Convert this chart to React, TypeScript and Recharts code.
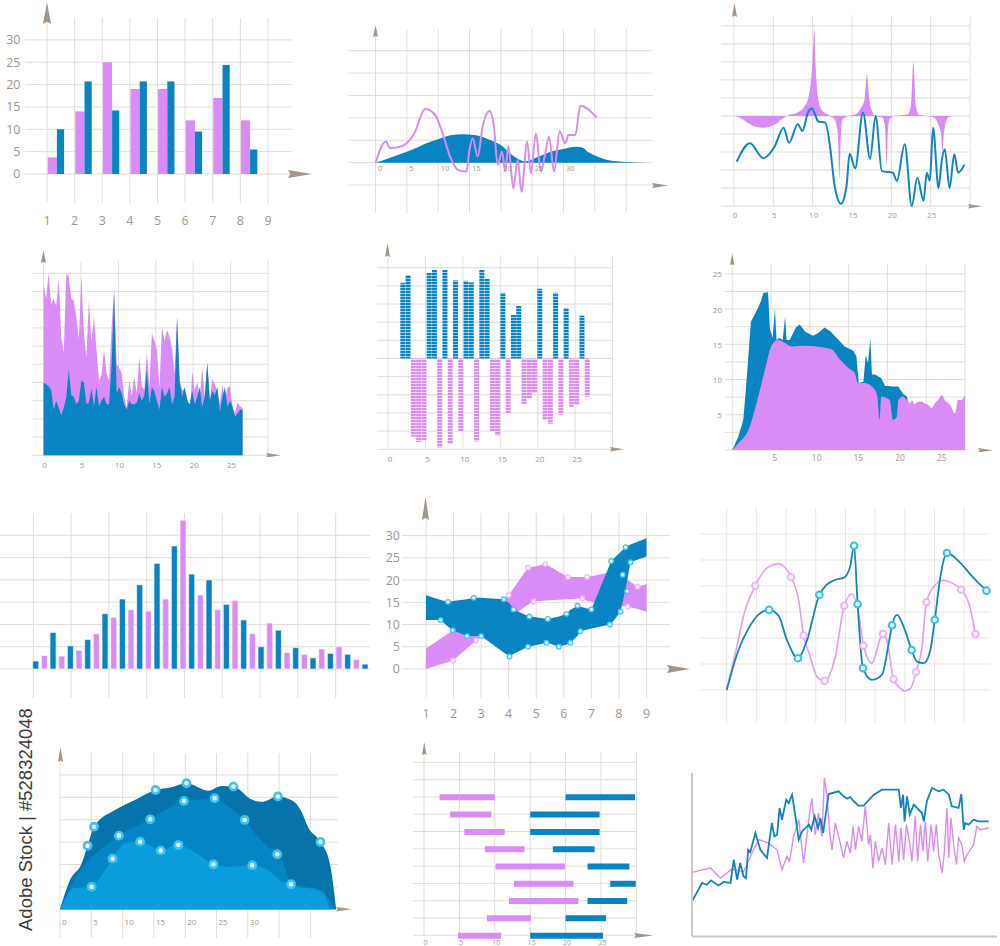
import React from 'react';
import { ComposedChart, BarChart, Bar, Area, Line, XAxis, YAxis, CartesianGrid, Cell } from 'recharts';

const PINK = '#d98cf6';
const BLUE = '#0784c1';
const GRID = '#e3dcd6';
const ARROW = '#a59585';
const INK = '#a3968c';
const FONT = '"Open Sans", "Noto Sans", sans-serif';

// ---------- data ----------
// panel 1: grouped bars
const P1_CATS = [1, 2, 3, 4, 5, 6, 7, 8];
const P1_PINK = [3.7, 14, 25, 19, 19, 12, 17, 12];
const P1_BLUE = [10, 20.7, 14.2, 20.7, 20.7, 9.5, 24.4, 5.5];
const P1_XTICKS = [1, 2, 3, 4, 5, 6, 7, 8, 9];
const Y30 = [0, 5, 10, 15, 20, 25, 30];

// panel 2: hump + wiggly line
const P2_XTICKS = [0, 5, 10, 15, 20, 25, 30, 35, 40];
const P2_XLABELS = [0, 5, 10, 15, 20, 25, 30];
const P2_YTICKS = [-10, 0, 10, 20, 30, 40, 50];
const P2_BLUE_X = [0, 2, 4, 6, 8, 10, 12, 14, 16, 18, 20, 22, 24, 26, 28, 30, 32, 33, 34, 36, 38, 40, 42, 44];
const P2_BLUE_Y = [0, 1.9, 3.9, 6.0, 8.6, 10.5, 12.2, 12.7, 12.2, 10.5, 7.9, 3.0, 0.6, 2.7, 4.9, 6.1, 7.1, 6.8, 4.6, 2.1, 0.7, 0.3, 0.1, 0];
const P2_PINK = [
  [0, 0], [1.65, 9.4], [2.3, 6.5], [4.1, 7.2], [6.2, 13.1], [7.9, 24.0], [9.5, 21.4], [10.6, 14], [11.9, 2.7],
  [13.2, -3.3], [14.5, -4], [15, 5.7], [15.5, 10.9], [16.3, 2.7], [17.1, 16.1], [18.2, 23.1], [18.9, 16.1],
  [19.5, -1], [20.2, 5], [20.7, -4], [21.2, 7.2], [22, -11.5], [22.7, 1.2], [23.3, -13], [24.2, 9.4], [24.8, -4.8],
  [25.6, 13], [26.4, -4], [27, 2.7], [27.7, 11.6], [28.5, -4], [29.4, 14], [30.3, 8.6], [30.8, 12.4], [31.9, 12.4],
  [32.7, 25.4], [35.3, 20.2],
];

// panel 3: spikes + line
const X30 = [0, 5, 10, 15, 20, 25, 30];
const X25 = [0, 5, 10, 15, 20, 25];
const P3_YTICKS = [-5, -4, -3, -2, -1, 0, 1, 2, 3, 4, 5];
const P3_PINK = [
  [0, 0], [1, -0.15], [1.82, -0.4], [2.8, -0.6], [3.72, -0.65], [4.6, -0.58], [5.2, -0.48], [6.0, -0.2], [6.7, 0],
  [8.1, 0.19], [8.9, 0.5], [9.4, 0.93], [9.8, 2.0], [10.0, 3.15], [10.2, 4.8], [10.4, 2.6], [10.6, 1.3], [11.1, 0.37],
  [12.2, 0], [12.8, -0.19], [13.2, -1.0], [13.4, -3.5], [13.6, -1.0], [13.8, -0.19], [14.5, 0], [15.5, 0.1],
  [16.2, 0.5], [16.6, 0.93], [16.9, 2.3], [17.2, 0.93], [17.5, 0.35], [17.9, 0], [18.9, -0.1], [19.2, -0.6],
  [19.4, -2.8], [19.6, -0.6], [19.9, -0.1], [20.5, 0], [22.1, 0.1], [22.5, 0.6], [22.8, 3.0], [23.1, 0.6],
  [23.6, 0.05], [24.5, 0], [25.5, -0.1], [26.0, -0.5], [26.3, -0.93], [26.5, -2.0], [26.7, -0.93], [27.2, -0.1],
  [28, 0], [30, 0],
];
const P3_BLUE = [
  [0.34, -2.54], [2.03, -1.52], [3.73, -2.35], [5.2, -1.67], [6.3, -0.65], [7.0, -1.48], [8.1, -0.46], [8.7, -0.83],
  [9.4, 0.19], [9.9, 0.41], [10.3, 0.09], [10.7, -0.31], [11.6, -0.37], [12.2, -1.67], [12.8, -3.9], [13.6, -4.87],
  [14.3, -3.9], [14.7, -2.1], [15.4, -2.9], [16.4, 0.19], [17.3, -2.37], [18.0, 0], [18.8, -3.06], [20.2, -3.15],
  [20.7, -3.6], [21.7, -1.57], [22.6, -5.0], [23.3, -3.43], [24.1, -4.7], [24.5, -3.15], [24.9, -3.6], [25.3, -0.65],
  [26.0, -4.0], [26.4, -2.5], [26.8, -1.85], [27.4, -4.0], [28.0, -2.13], [28.5, -3.15], [29.3, -2.7],
];

// panel 4: two noisy areas, sampled every P4_STEP
const P4_STEP = 0.3367;
const Y10 = [0, 1, 2, 3, 4, 5, 6, 7, 8, 9, 10];
const P4_PINK = [
  9.4, 8.6, 10.0, 8.3, 8.6, 8.2, 9.7, 6.5, 5.6, 10.0, 9.8, 8.6, 8.5, 7.6, 6.4, 9.9, 6.7, 5.4, 8.5, 6.3,
  7.6, 5.8, 4.1, 4.4, 5.8, 4.5, 4.1, 7.0, 9.2, 5.0, 4.8, 4.5, 3.2, 2.6, 4.1, 3.3, 4.3, 3.4, 5.4, 3.8,
  3.6, 5.7, 3.7, 6.7, 6.3, 5.8, 3.7, 7.1, 6.3, 6.9, 6.5, 5.9, 4.5, 7.6, 4.1, 3.6, 3.6, 3.2, 1.9, 4.6,
  3.6, 4.0, 3.2, 4.8, 3.2, 5.1, 3.0, 4.2, 3.9, 3.5, 2.8, 3.9, 3.0, 3.7, 3.8, 2.7, 2.3, 2.9, 2.7, 2.6,
];
const P4_BLUE = [
  4.0, 3.9, 3.8, 3.6, 2.5, 3.0, 2.6, 2.2, 2.6, 3.2, 4.7, 3.3, 3.2, 2.8, 3.0, 4.1, 4.0, 2.8, 2.9, 3.65,
  2.65, 3.75, 2.7, 3.0, 3.2, 2.8, 2.8, 5.0, 8.9, 3.4, 3.75, 3.4, 2.8, 2.5, 3.0, 2.8, 2.8, 2.9, 3.4, 3.0,
  3.3, 4.75, 2.8, 3.75, 3.5, 3.0, 2.5, 3.75, 3.2, 3.4, 3.75, 2.8, 3.2, 7.6, 4.1, 3.2, 3.75, 3.0, 2.8, 3.55,
  2.8, 3.2, 3.75, 2.65, 3.2, 5.1, 3.0, 3.55, 3.3, 3.75, 2.4, 3.2, 3.75, 2.65, 3.0, 2.65, 2.1, 2.3, 2.5, 2.5,
];

// panel 5: striped up/down bars in 36 slots
const P5_BLUE = [4.17, 4.6, 0, 0, 0, 4.72, 4.88, 0, 4.88, 0, 4.3, 0, 4.28, 4.19, 0, 4.88, 4.39, 0, 0, 3.62, 0, 2.41, 2.9, 0, 0, 0, 3.84, 0, 0, 3.62, 0, 2.78, 0, 0, 2.36, 0];
const P5_PINK = [0, 0, -4.3, -4.6, -4.5, 0, 0, -4.9, 0, -4.7, 0, -4.0, 0, 0, -4.57, 0, 0, -4.0, -4.24, 0, -3.0, 0, 0, -2.5, -2.2, -1.9, 0, -3.4, -3.6, 0, -3.1, 0, -2.65, -2.55, 0, -2.1];

// panel 6: two overlapping areas
const P6_YTICKS = [0, 2.5, 5, 7.5, 10, 12.5, 15, 17.5, 20, 22.5, 25];
const P6_YLABELS = [5, 10, 15, 20, 25];
const P6_XLABELS = [5, 10, 15, 20, 25];
const P6_BLUE = [
  [0, 0], [0.78, 1.9], [1.42, 4.3], [1.85, 10], [2.4, 18.2], [3.1, 19.7], [3.7, 21.1], [4.0, 22.3], [4.6, 22.4],
  [4.86, 17.1], [5.2, 15.9], [5.5, 20.1], [5.7, 15.6], [6.06, 15.9], [6.5, 15.6], [6.8, 18.9], [7.0, 15.6],
  [7.4, 15.6], [8.2, 17.4], [8.7, 17.8], [9.4, 16.8], [10.4, 16.2], [11.1, 16.6], [11.9, 17.4], [12.7, 16.8],
  [13.7, 15.6], [14.5, 14.7], [15.6, 14.1], [16.0, 13.3], [16.3, 9.5], [16.9, 9.7], [17.2, 13.5], [17.5, 12.3],
  [17.8, 15.9], [18.0, 10.7], [18.4, 10.7], [19.2, 10.2], [19.7, 9.1], [20.1, 9.1], [20.7, 9.0], [21.4, 9.0],
  [22.0, 8.0], [22.5, 7.6], [23.0, 5.0], [30, 4.5],
];
const P6_PINK = [
  [0, 0], [0.78, 0.95], [2.07, 2.8], [3.35, 7.6], [4.2, 11.4], [5.1, 14.9], [5.9, 15.6], [6.8, 15.2], [7.65, 14.7],
  [9.4, 14.8], [11.5, 14.6], [12.8, 14.3], [13.9, 12.8], [15.0, 11.6], [15.8, 10.9], [16.2, 9.5], [17.1, 9.5],
  [18.4, 8.5], [18.7, 7.6], [19.0, 4.3], [19.2, 7.6], [20.3, 7.1], [20.7, 4.3], [21.2, 4.7], [21.4, 7.1],
  [22.0, 7.6], [22.4, 7.2], [22.9, 6.7], [23.2, 7.0], [23.5, 6.5], [23.9, 6.8], [24.4, 6.9], [24.8, 6.6],
  [25.3, 6.4], [25.7, 5.9], [26.1, 6.6], [26.6, 7.2], [27.0, 7.8], [27.4, 7.1], [28.1, 6.4], [28.7, 5.2],
  [29.1, 7.1], [29.5, 7.1], [30, 7.8],
];

// panel 7: 39 alternating bars
const P7_VALUES = [
  1.8, 3.0, 8.2, 2.9, 5.2, 4.2, 6.6, 7.9, 12.4, 11.6, 15.7, 13.3, 18.9, 13.0, 23.7, 15.7, 27.6, 33.4, 21.3, 16.6,
  20.0, 13.3, 14.5, 15.4, 11.0, 7.9, 5.0, 10.3, 8.7, 3.7, 4.8, 3.3, 2.5, 4.5, 3.5, 5.0, 3.3, 2.1, 1.1,
];
const P7_GRID_X = [0, 1, 2, 3, 4, 5, 6, 7, 8];

// panel 8: two bands with markers  [x, low, high]
const P8_PINK = [
  [1, 0, 4.6], [1.98, 1.9, 8.7], [2.82, 6.4, 11.9], [4.0, 11.3, 16.6], [4.7, 14.5, 22.8], [4.91, 15.2, 23.0],
  [5.33, 15.4, 23.6], [6.15, 15.7, 20.7], [6.67, 15.9, 20.7], [6.85, 15.3, 20.7], [7.65, 14.5, 21.7],
  [8.32, 14.0, 20.0], [8.68, 13.5, 18.5], [9, 12.9, 19.1],
];
const P8_BLUE = [
  [1, 11.0, 16.6], [1.53, 11.0, 15.5], [1.8, 9.5, 15.1], [1.97, 8.7, 15.3], [2.49, 7.4, 15.7], [2.73, 7.4, 16.0],
  [3.0, 7.4, 16.0], [3.82, 3.7, 15.7], [4.03, 2.8, 14.8], [4.18, 3.4, 13.4], [4.7, 5.0, 11.9], [5.4, 5.9, 11.25],
  [5.82, 5.0, 11.8], [6.1, 5.5, 12.4], [6.24, 5.9, 13.3], [6.5, 7.5, 14.25], [6.6, 8.5, 14.0], [7.0, 9.1, 13.4],
  [7.67, 10.0, 23.5], [7.72, 10.2, 24.3], [8.06, 12.9, 26.3], [8.24, 18.0, 27.4], [8.42, 24.0, 28.0], [9, 25.3, 29.4],
];
const P8_PINK_DOTS = [[1.98, 1.9], [2.82, 6.4], [4.0, 16.6], [4.7, 22.8], [4.91, 15.2], [5.33, 23.6], [6.15, 20.7], [6.67, 15.9], [6.85, 20.7], [8.32, 14.0], [8.68, 18.5]];
const P8_BLUE_DOTS = [
  [1.53, 11.0], [1.8, 15.1], [1.97, 8.7], [2.49, 7.4], [2.73, 16.0], [3.0, 7.4], [3.82, 15.7], [4.03, 2.8],
  [4.18, 13.4], [4.7, 5.0], [4.75, 11.8], [5.37, 5.9], [5.42, 11.25], [5.82, 5.0], [6.1, 12.4], [6.24, 5.9],
  [6.5, 14.25], [6.6, 8.5], [7.0, 13.4], [7.67, 10.0], [7.72, 24.3], [8.06, 12.9], [8.14, 21.2], [8.24, 27.4],
  [8.3, 17.5], [8.42, 24.0],
];

// panel 9: two smooth lines, [x, y, marker]
const X0_8 = [0, 1, 2, 3, 4, 5, 6, 7, 8];
const Y0_6 = [0, 1, 2, 3, 4, 5, 6];
const P9_BLUE = [
  [0, 0, 0], [0.4, 1.55, 0], [0.75, 2.4, 0], [1.07, 2.9, 0], [1.43, 3.08, 1], [1.75, 2.85, 0], [2.02, 1.95, 0],
  [2.4, 1.22, 1], [2.7, 1.9, 0], [3.12, 3.66, 1], [3.37, 4.05, 0], [3.66, 4.24, 0], [3.94, 4.31, 0], [4.16, 4.76, 0],
  [4.29, 5.55, 1], [4.41, 3.3, 1], [4.59, 0.84, 1], [4.89, 0.39, 0], [5.23, 0.58, 0], [5.46, 1.8, 0], [5.57, 2.49, 1],
  [5.74, 2.89, 0], [5.96, 2.44, 0], [6.23, 1.54, 1], [6.41, 1.09, 0], [6.64, 1.03, 0], [6.86, 1.54, 0], [7.01, 2.7, 1],
  [7.2, 4.37, 0], [7.42, 5.27, 1], [7.82, 4.95, 0], [8.27, 4.37, 0], [8.75, 3.82, 1],
];
const P9_PINK = [
  [0, 0, 0], [0.34, 1.67, 0], [0.62, 3.08, 0], [0.96, 4.01, 1], [1.35, 4.69, 0], [1.74, 4.85, 0], [2.17, 4.34, 1],
  [2.42, 3.47, 0], [2.59, 2.1, 1], [2.81, 1.29, 0], [3.04, 0.51, 0], [3.3, 0.35, 1], [3.66, 1.29, 0], [3.96, 3.24, 1],
  [4.22, 3.69, 0], [4.44, 2.96, 0], [4.61, 1.7, 1], [4.89, 1.03, 0], [5.26, 2.16, 1], [5.42, 1.8, 0], [5.62, 0.41, 1],
  [5.79, 0.13, 0], [6.0, -0.04, 0], [6.19, 0.06, 0], [6.38, 0.69, 1], [6.58, 1.67, 0], [6.73, 3.38, 1], [7.03, 4.05, 0],
  [7.31, 4.22, 0], [7.59, 4.11, 0], [7.9, 3.86, 1], [8.16, 3.34, 0], [8.38, 2.15, 1],
];

// panel 10: three layered areas, [x, y, marker]
const P10_XTICKS = [0, 5, 10, 15, 20, 25, 30, 35, 40];
const P10_XLABELS = [0, 5, 10, 15, 20, 25, 30];
const P10_DARK = [
  [0, 0, 0], [1.6, 1.31, 0], [3.46, 2.05, 0], [4.41, 2.84, 1], [5.43, 3.69, 1], [8.78, 4.43, 0], [11.97, 4.88, 0],
  [15.27, 5.33, 1], [17.8, 5.45, 0], [20.2, 5.63, 1], [23.7, 5.3, 0], [25.8, 5.51, 0], [27.7, 5.48, 1], [30.6, 4.9, 0],
  [32.2, 4.8, 0], [34.8, 5.04, 1], [37.0, 4.87, 0], [38.6, 4.35, 0], [39.6, 3.68, 0], [41.6, 3.01, 1], [43.1, 2.05, 0],
  [44.1, 0, 0],
];
const P10_MID = [
  [0, 0, 0], [1.33, 0.79, 0], [2.93, 1.61, 0], [4.52, 2.2, 0], [6.65, 2.72, 0], [9.41, 3.29, 1], [11.4, 3.62, 0],
  [14.4, 4.02, 1], [16.8, 4.43, 0], [19.8, 4.84, 1], [22.1, 4.88, 0], [24.7, 4.96, 1], [26.9, 4.58, 0], [29.5, 3.99, 1],
  [31.6, 3.24, 0], [33.2, 2.79, 0], [34.7, 2.46, 1], [35.9, 1.9, 0], [36.9, 1.12, 1], [39.6, 1.0, 0], [41.8, 0.86, 0],
  [43.1, 0.42, 0], [43.9, 0, 0],
];
const P10_LIGHT = [
  [0, 0, 0], [1.06, 0.6, 0], [2.13, 0.94, 0], [5.05, 1.01, 1], [6.65, 1.53, 0], [8.4, 2.26, 1], [10.4, 2.95, 0],
  [12.8, 3.02, 1], [14.6, 2.8, 0], [16.1, 2.62, 1], [17.8, 2.8, 0], [18.9, 2.87, 1], [20.5, 2.72, 0], [22.6, 2.35, 0],
  [24.5, 2.01, 1], [26.9, 1.9, 0], [30.7, 1.97, 1], [33.2, 1.75, 0], [35.4, 1.25, 0], [38.0, 1.0, 0], [40.7, 0.9, 0],
  [42.3, 0.6, 0], [43.1, 0, 0],
];

// panel 11: timeline rows
const P11_ROWS = [8, 7, 6, 5, 4, 3, 2, 1, 0];
const P11_PINK_START = [2.2, 3.7, 5.7, 8.6, 10.1, 12.7, 12.0, 8.9, 4.8];
const P11_PINK_END = [10.0, 9.5, 11.4, 14.2, 19.9, 21.1, 21.8, 15.1, 10.9];
const P11_BLUE_START = [20.0, 15.0, 15.0, 18.2, 23.1, 26.3, 23.1, 20.0, 15.0];
const P11_BLUE_END = [29.8, 24.8, 24.8, 24.1, 29.0, 29.9, 28.7, 25.7, 25.3];

// panel 12: two jagged lines
const P12_XTICKS = [0, 18.6, 36.6, 53.5, 70.2, 86.3];
const P12_BLUE = [
  [0, 2.14], [3.3, 3.27], [4.9, 3.16], [6.2, 3.43], [8.7, 3.12], [10.4, 3.33], [12.6, 3.27], [13.7, 4.69], [14.8, 3.47],
  [15.8, 4.49], [16.9, 3.67], [17.7, 3.57], [18.4, 5.3], [19.1, 5.16], [20.8, 6.33], [22.4, 5.3], [24.6, 4.8], [25.1, 5.5],
  [26.2, 6.94], [27.0, 6.12], [27.9, 6.22], [28.7, 7.86], [29.5, 7.14], [30.9, 8.37], [31.7, 8.16], [32.8, 8.67],
  [33.9, 7.35], [35.0, 5.92], [36.1, 6.43], [37.2, 6.63], [38.3, 6.84], [39.1, 6.53], [40.2, 7.35], [41.3, 6.63],
  [42.1, 7.24], [43.0, 6.33], [44.8, 8.71], [48.1, 8.88], [49.7, 8.57], [50.8, 8.43], [51.9, 8.53], [53.0, 8.27],
  [54.6, 8.0], [56.3, 8.0], [59.6, 8.67], [62.3, 8.98], [67.8, 8.98], [68.5, 7.86], [69.2, 8.67], [69.7, 7.04],
  [70.5, 8.57], [71.4, 7.45], [72.7, 8.06], [75.4, 7.55], [76.0, 7.04], [77.0, 8.27], [78.7, 9.08], [80.9, 8.88],
  [82.5, 8.98], [84.2, 8.67], [85.2, 7.96], [87.4, 7.86], [88.3, 8.71], [89.1, 6.53], [89.6, 6.94], [90.7, 6.84],
  [92.3, 7.14], [94.0, 7.04], [97.3, 7.04],
];
const P12_PINK = [
  [0, 3.92], [6.0, 4.18], [9.3, 3.57], [13.1, 4.12], [16.9, 3.94], [19.7, 5.1], [21.9, 5.92], [25.1, 5.71], [27.9, 5.3],
  [29.5, 4.08], [31.1, 4.9], [32.0, 4.6], [33.3, 6.12], [35.0, 7.14], [36.6, 4.49], [38.3, 7.14], [39.3, 8.47],
  [40.4, 6.22], [41.5, 7.55], [42.6, 6.12], [43.4, 9.69], [44.3, 8.47], [45.1, 6.43], [45.9, 5.3], [47.0, 6.94],
  [48.1, 6.12], [49.7, 4.8], [50.8, 5.82], [51.9, 5.1], [52.8, 6.73], [53.6, 5.3], [54.6, 6.73], [55.7, 5.82],
  [56.8, 7.96], [57.9, 5.61], [58.5, 6.22], [59.3, 4.18], [60.1, 5.82], [61.2, 4.59], [62.3, 5.41], [63.4, 4.39],
  [64.5, 6.94], [65.6, 4.39], [66.7, 6.84], [67.8, 4.59], [68.5, 6.63], [69.4, 4.69], [70.3, 6.84], [71.4, 5.71],
  [72.1, 4.59], [73.2, 7.35], [74.0, 4.59], [74.9, 6.84], [75.7, 5.2], [76.5, 7.04], [77.3, 4.59], [78.4, 6.84],
  [79.2, 5.2], [80.1, 6.84], [80.9, 5.0], [82.0, 3.88], [82.7, 5.1], [83.6, 7.86], [84.2, 4.8], [84.9, 7.24],
  [85.8, 5.61], [86.7, 4.39], [87.4, 6.02], [88.5, 5.61], [89.3, 4.59], [90.2, 5.0], [92.3, 5.61], [93.4, 6.73],
  [94.5, 6.53], [97.3, 6.63],
];

// ---------- helpers ----------
const xy = (arr: number[][]) => arr.map(([x, y, m]) => ({ x, y, m }));
const band = (arr: number[][]) => arr.map(([x, lo, hi]) => ({ x, r: [lo, hi] }));

// chart frame whose plot area is exactly (x, y, w, h) on the page
function at(x: number, y: number, w: number, h: number, xh = 0, yw = 0) {
  const pad = 30;
  return {
    left: x - pad,
    top: y - pad,
    width: w + 2 * pad,
    height: h + 2 * pad,
    margin: { top: pad, right: pad, bottom: pad - xh, left: pad - yw },
  };
}

function Box({ f, children }: any) {
  return <div style={{ position: 'absolute', left: f.left, top: f.top }}>{children}</div>;
}

const bare = { axisLine: false, tickLine: false, tickSize: 0, tickMargin: 0, interval: 0 as const };
const ghost = { hide: true, height: 0, interval: 0 as const };
const ghostY = { hide: true, width: 0, interval: 0 as const };

function lbl(o: { dx?: number; dy?: number; anchor?: string; size?: number; show?: number[] }) {
  return (p: any) => {
    const v = p.payload.value;
    if (o.show && !o.show.includes(v)) return <g />;
    return (
      <text
        x={p.x + (o.dx ?? 0)}
        y={p.y + (o.dy ?? 0)}
        textAnchor={o.anchor ?? 'middle'}
        dominantBaseline="central"
        fontSize={o.size ?? 8}
        fill={INK}
        fontFamily={FONT}
      >
        {v}
      </text>
    );
  };
}

function ring(stroke: string, fill: string, r: number, sw: number, all = false) {
  return (p: any) =>
    all || (p.payload && p.payload.m) ? (
      <circle key={p.index} cx={p.cx} cy={p.cy} r={r} stroke={stroke} strokeWidth={sw} fill={fill} />
    ) : (
      <g key={p.index} />
    );
}

function UpArrow({ cx, top, w, h }: any) {
  return (
    <svg style={{ position: 'absolute', left: cx - w / 2, top }} width={w} height={h}>
      <polygon points={`${w / 2},0 ${w},${h} ${w / 2},${h * 0.9} 0,${h}`} fill={ARROW} />
    </svg>
  );
}

function RightArrow({ left, cy, w, h }: any) {
  return (
    <svg style={{ position: 'absolute', left, top: cy - h / 2 }} width={w} height={h}>
      <polygon points={`0,0 ${w},${h / 2} 0,${h} ${w * 0.1},${h / 2}`} fill={ARROW} />
    </svg>
  );
}

// ---------- panels ----------
function Panel1() {
  const f = at(25, 18, 267, 185, 1, 1);
  const data = P1_CATS.map((n, i) => ({ n, p: P1_PINK[i], b: P1_BLUE[i] }));
  return (
    <Box f={f}>
      <BarChart width={f.width} height={f.height} margin={f.margin} data={data} barGap={0} barCategoryGap={0}>
        <CartesianGrid stroke={GRID} xAxisId="num" syncWithTicks />
        <XAxis xAxisId="num" dataKey="n" type="number" domain={[0.203, 9.87]} allowDataOverflow ticks={P1_XTICKS} height={1} {...bare} tick={lbl({ dy: 17, size: 12.5 })} />
        <XAxis xAxisId="cat" dataKey="n" type="category" orientation="top" {...ghost} padding={{ left: 16.7, right: 29.5 }} />
        <YAxis type="number" domain={[-6.5, 34.9]} ticks={Y30} width={1} {...bare} tick={lbl({ dx: -4.5, anchor: 'end', size: 12.5 })} />
        <Bar xAxisId="cat" dataKey="p" fill={PINK} barSize={9.2} isAnimationActive={false} />
        <Bar xAxisId="cat" dataKey="b" fill={BLUE} barSize={7.2} isAnimationActive={false} />
      </BarChart>
    </Box>
  );
}

function Panel2() {
  const f = at(348, 29, 305, 184, 1, 0);
  const blue = P2_BLUE_X.map((x, i) => ({ x, y: P2_BLUE_Y[i] }));
  return (
    <Box f={f}>
      <ComposedChart width={f.width} height={f.height} margin={f.margin}>
        <CartesianGrid stroke={GRID} syncWithTicks />
        <XAxis dataKey="x" type="number" domain={[-4.4, 44.3]} ticks={P2_XTICKS} height={1} {...bare} tick={lbl({ dx: 2.5, dy: -44.7, anchor: 'start', size: 7.5, show: P2_XLABELS })} />
        <YAxis type="number" domain={[-22.5, 59.7]} ticks={P2_YTICKS} {...ghostY} />
        <Area data={blue} dataKey="y" type="monotone" fill={BLUE} fillOpacity={1} stroke="none" isAnimationActive={false} />
        <Line data={xy(P2_PINK)} dataKey="y" type="monotone" stroke={PINK} strokeWidth={2} dot={false} isAnimationActive={false} />
      </ComposedChart>
    </Box>
  );
}

function Panel3() {
  const f = at(721, 15.2, 249, 191.1, 1, 0);
  return (
    <Box f={f}>
      <ComposedChart width={f.width} height={f.height} margin={f.margin}>
        <CartesianGrid stroke={GRID} syncWithTicks />
        <XAxis dataKey="x" type="number" domain={[-1.65, 30]} ticks={X30} height={1} {...bare} tick={lbl({ dx: 1, dy: 8.7, size: 8, show: X25 })} />
        <YAxis type="number" domain={[-5, 5.6]} ticks={P3_YTICKS} {...ghostY} />
        <Area data={xy(P3_PINK)} dataKey="y" type="monotone" fill={PINK} fillOpacity={1} stroke="none" isAnimationActive={false} />
        <Line data={xy(P3_BLUE)} dataKey="y" type="monotone" stroke="#1086c3" strokeWidth={2} dot={false} isAnimationActive={false} />
      </ComposedChart>
    </Box>
  );
}

function Panel4() {
  const f = at(31.7, 260.7, 236, 194.3, 1, 0);
  const data = P4_PINK.map((p, i) => ({ x: i * P4_STEP, p, b: P4_BLUE[i] }));
  return (
    <Box f={f}>
      <ComposedChart width={f.width} height={f.height} margin={f.margin} data={data}>
        <CartesianGrid stroke={GRID} syncWithTicks />
        <XAxis dataKey="x" type="number" domain={[-1.55, 30]} ticks={X30} height={1} {...bare} tick={lbl({ dx: 1, dy: 9, size: 8, show: X25 })} />
        <YAxis type="number" domain={[0, 10.68]} ticks={Y10} {...ghostY} />
        <Area dataKey="p" type="linear" fill={PINK} fillOpacity={1} stroke="none" isAnimationActive={false} />
        <Area dataKey="b" type="linear" fill={BLUE} fillOpacity={1} stroke="none" isAnimationActive={false} />
      </ComposedChart>
    </Box>
  );
}

function Panel5() {
  const f = at(376.7, 255, 235.6, 194.3, 1, 0);
  const data = P5_BLUE.map((b, k) => ({ k, b, p: P5_PINK[k] }));
  return (
    <Box f={f}>
      <ComposedChart width={f.width} height={f.height} margin={f.margin} data={data} stackOffset="sign" barGap={0} barCategoryGap={0}>
        <defs>
          <pattern id="p5stripeB" width="6" height="3" patternUnits="userSpaceOnUse">
            <rect width="6" height="3" fill="#a8d6f0" />
            <rect width="6" height="2.1" fill={BLUE} />
          </pattern>
          <pattern id="p5stripeP" width="6" height="3" patternUnits="userSpaceOnUse">
            <rect width="6" height="3" fill="#f5def9" />
            <rect width="6" height="2.1" fill={PINK} />
          </pattern>
        </defs>
        <CartesianGrid stroke={GRID} xAxisId="num" syncWithTicks />
        <XAxis xAxisId="num" dataKey="k" type="number" domain={[-1.47, 30]} allowDataOverflow ticks={X30} height={1} {...bare} tick={lbl({ dx: 2, dy: 9.7, size: 8, show: X25 })} />
        <XAxis xAxisId="cat" dataKey="k" type="category" orientation="top" {...ghost} padding={{ left: 23.3, right: 22.6 }} />
        <YAxis type="number" domain={[-5, 5.7]} ticks={P3_YTICKS} {...ghostY} />
        <Bar xAxisId="cat" dataKey="b" stackId="s" fill="url(#p5stripeB)" isAnimationActive={false} />
        <Bar xAxisId="cat" dataKey="p" stackId="s" fill="url(#p5stripeP)" isAnimationActive={false} />
      </ComposedChart>
    </Box>
  );
}

function Panel6() {
  const f = at(725, 264, 240, 186, 1, 1);
  return (
    <Box f={f}>
      <ComposedChart width={f.width} height={f.height} margin={f.margin}>
        <CartesianGrid stroke={GRID} xAxisId="main" syncWithTicks />
        <XAxis xAxisId="lab" dataKey="x" type="number" domain={[-1.0, 27.8]} allowDataOverflow ticks={P6_XLABELS} height={1} {...bare} tick={lbl({ dy: 7.3, size: 8.5 })} />
        <XAxis xAxisId="main" dataKey="x" type="number" domain={[-0.94, 30]} ticks={X30} orientation="top" {...ghost} />
        <YAxis type="number" domain={[0, 26.4]} ticks={P6_YTICKS} width={1} {...bare} tick={lbl({ dx: -3, anchor: 'end', size: 8, show: P6_YLABELS })} />
        <Area xAxisId="main" data={xy(P6_BLUE)} dataKey="y" type="linear" fill={BLUE} fillOpacity={1} stroke="none" isAnimationActive={false} />
        <Area xAxisId="main" data={xy(P6_PINK)} dataKey="y" type="monotone" fill={PINK} fillOpacity={1} stroke="none" isAnimationActive={false} />
      </ComposedChart>
    </Box>
  );
}

function Panel7() {
  const f = at(0, 513, 370, 185, 0, 0);
  const data = P7_VALUES.map((v, i) => ({ i, v }));
  return (
    <Box f={f}>
      <BarChart width={f.width} height={f.height} margin={f.margin} data={data} barCategoryGap={0}>
        <CartesianGrid stroke={GRID} xAxisId="num" syncWithTicks />
        <XAxis xAxisId="num" dataKey="i" type="number" domain={[-0.881, 8.907]} allowDataOverflow ticks={P7_GRID_X} {...ghost} />
        <XAxis xAxisId="cat" dataKey="i" type="category" orientation="top" {...ghost} padding={{ left: 31.7, right: 0.3 }} />
        <YAxis type="number" domain={[-6.5, 35]} ticks={Y30} {...ghostY} />
        <Bar xAxisId="cat" dataKey="v" barSize={6} stroke="#ffffff" strokeWidth={0.6} isAnimationActive={false}>
          {data.map((d) => (
            <Cell key={d.i} fill={d.i % 2 === 0 ? BLUE : PINK} />
          ))}
        </Bar>
      </BarChart>
    </Box>
  );
}

function Panel8() {
  const f = at(401.7, 513, 268.3, 185.3, 1, 1);
  return (
    <Box f={f}>
      <ComposedChart width={f.width} height={f.height} margin={f.margin}>
        <CartesianGrid stroke={GRID} syncWithTicks />
        <XAxis dataKey="x" type="number" domain={[0.129, 9.864]} ticks={P1_XTICKS} height={1} {...bare} tick={lbl({ dy: 15.7, size: 12.5 })} />
        <YAxis type="number" domain={[-6.6, 35.1]} ticks={Y30} width={1} {...bare} tick={lbl({ dx: -2, anchor: 'end', size: 12.5 })} />
        <Area data={band(P8_PINK)} dataKey="r" type="linear" fill={PINK} fillOpacity={1} stroke="none" isAnimationActive={false} />
        <Area data={band(P8_BLUE)} dataKey="r" type="linear" fill={BLUE} fillOpacity={1} stroke="none" isAnimationActive={false} />
        <Line data={xy(P8_PINK_DOTS)} dataKey="y" stroke="none" dot={ring('#efb8fb', '#fdf2ff', 2.3, 1.3, true)} isAnimationActive={false} />
        <Line data={xy(P8_BLUE_DOTS)} dataKey="y" stroke="none" dot={ring('#3fc6f7', '#e2f7fe', 2.3, 1.3, true)} isAnimationActive={false} />
      </ComposedChart>
    </Box>
  );
}

function Panel9() {
  const f = at(700, 508, 290, 215, 0, 0);
  return (
    <Box f={f}>
      <ComposedChart width={f.width} height={f.height} margin={f.margin}>
        <CartesianGrid stroke="#ebe5e1" syncWithTicks />
        <XAxis dataKey="x" type="number" domain={[-0.9, 8.87]} ticks={X0_8} {...ghost} />
        <YAxis type="number" domain={[-1.27, 7]} ticks={Y0_6} {...ghostY} />
        <Line data={xy(P9_PINK)} dataKey="y" type="monotone" stroke="#e39cf8" strokeWidth={1.6} dot={ring('#ecb2fa', '#fdf3ff', 3.3, 1.8)} isAnimationActive={false} />
        <Line data={xy(P9_BLUE)} dataKey="y" type="monotone" stroke="#1186c1" strokeWidth={1.8} dot={ring('#36bff3', '#eafaff', 3.3, 2)} isAnimationActive={false} />
      </ComposedChart>
    </Box>
  );
}

function Panel10() {
  const f = at(60, 753, 278, 185, 1, 0);
  const dot = ring('#3cc4f6', '#effbff', 3.6, 2.6);
  return (
    <Box f={f}>
      <ComposedChart width={f.width} height={f.height} margin={f.margin}>
        <CartesianGrid stroke={GRID} syncWithTicks />
        <XAxis dataKey="x" type="number" domain={[0, 44.4]} ticks={P10_XTICKS} height={1} {...bare} tick={lbl({ dx: 2, dy: -16.3, anchor: 'start', size: 8, show: P10_XLABELS })} />
        <YAxis type="number" domain={[-1.28, 6.98]} ticks={Y0_6} {...ghostY} />
        <Area data={xy(P10_DARK)} dataKey="y" type="monotone" fill="#0773ab" fillOpacity={1} stroke="none" isAnimationActive={false} />
        <Area data={xy(P10_MID)} dataKey="y" type="monotone" fill="#0585c3" fillOpacity={1} stroke="none" isAnimationActive={false} />
        <Area data={xy(P10_LIGHT)} dataKey="y" type="monotone" fill="#0b9cdb" fillOpacity={1} stroke="none" isAnimationActive={false} />
        <Line data={xy(P10_DARK)} dataKey="y" stroke="none" dot={dot} isAnimationActive={false} />
        <Line data={xy(P10_MID)} dataKey="y" stroke="none" dot={dot} isAnimationActive={false} />
        <Line data={xy(P10_LIGHT)} dataKey="y" stroke="none" dot={dot} isAnimationActive={false} />
      </ComposedChart>
    </Box>
  );
}

function Panel11() {
  const f = at(413.3, 751.7, 223.4, 183.3, 1, 0);
  const data = P11_ROWS.map((row, i) => ({
    row,
    s0: P11_PINK_START[i],
    pl: P11_PINK_END[i] - P11_PINK_START[i],
    gp: P11_BLUE_START[i] - P11_PINK_END[i],
    bl: P11_BLUE_END[i] - P11_BLUE_START[i],
  }));
  return (
    <Box f={f}>
      <BarChart width={f.width} height={f.height} margin={f.margin} data={data} layout="vertical">
        <CartesianGrid stroke={GRID} syncWithTicks />
        <XAxis type="number" domain={[-1.55, 30]} ticks={X30} height={1} {...bare} tick={lbl({ dx: 1.5, dy: 6.8, size: 7, show: X25 })} />
        <YAxis type="number" dataKey="row" domain={[0, 10.6]} ticks={Y10} reversed {...ghostY} />
        <Bar dataKey="s0" stackId="g" fill="none" barSize={6} isAnimationActive={false} />
        <Bar dataKey="pl" stackId="g" fill={PINK} barSize={6} isAnimationActive={false} />
        <Bar dataKey="gp" stackId="g" fill="none" barSize={6} isAnimationActive={false} />
        <Bar dataKey="bl" stackId="g" fill={BLUE} barSize={6} isAnimationActive={false} />
      </BarChart>
    </Box>
  );
}

function Panel12() {
  const f = at(691.7, 773.3, 305, 163.4, 1, 1);
  const axis = { stroke: '#cfc6bf', strokeWidth: 2 };
  return (
    <Box f={f}>
      <ComposedChart width={f.width} height={f.height} margin={f.margin}>
        <CartesianGrid stroke={GRID} syncWithTicks />
        <XAxis dataKey="x" type="number" domain={[0, 100]} ticks={P12_XTICKS} interval={0} height={1} tick={false} tickLine={false} axisLine={axis} />
        <YAxis type="number" domain={[0, 10]} ticks={Y10} interval={0} width={1} tick={false} tickLine={false} axisLine={axis} />
        <Line data={xy(P12_PINK)} dataKey="y" type="linear" stroke={PINK} strokeWidth={1.4} dot={false} isAnimationActive={false} />
        <Line data={xy(P12_BLUE)} dataKey="y" type="linear" stroke="#1184c0" strokeWidth={1.8} dot={false} isAnimationActive={false} />
      </ComposedChart>
    </Box>
  );
}

function Watermark() {
  return (
    <svg style={{ position: 'absolute', left: 0, top: 690 }} width={45} height={256}>
      <text transform="translate(32,241) rotate(-90)" fontSize={18.5} fill="#3c3c3c" fontFamily='"Liberation Sans", Arial, sans-serif'>
        Adobe Stock | #528324048
      </text>
    </svg>
  );
}

export default function App() {
  return (
    <div style={{ position: 'absolute', left: 0, top: 0, width: 1000, height: 946, overflow: 'hidden', background: '#ffffff', fontFamily: FONT }}>
      <Panel1 />
      <Panel2 />
      <Panel3 />
      <Panel4 />
      <Panel5 />
      <Panel6 />
      <Panel7 />
      <Panel8 />
      <Panel9 />
      <Panel10 />
      <Panel11 />
      <Panel12 />
      <UpArrow cx={47} top={2} w={8} h={22} />
      <RightArrow left={288} cy={174} w={24} h={8} />
      <UpArrow cx={375.7} top={25} w={5} h={12} />
      <RightArrow left={652} cy={185} w={16} h={5} />
      <UpArrow cx={734} top={3} w={5} h={14} />
      <RightArrow left={968} cy={206.3} w={14} h={4.5} />
      <UpArrow cx={43.3} top={250} w={5} h={13} />
      <RightArrow left={266} cy={455} w={15} h={4.5} />
      <UpArrow cx={387.7} top={243} w={5} h={14} />
      <RightArrow left={610} cy={449.3} w={14} h={4.5} />
      <UpArrow cx={732.3} top={252.7} w={4.5} h={12.5} />
      <RightArrow left={978} cy={450} w={15} h={4.5} />
      <UpArrow cx={425.7} top={497} w={7} h={23} />
      <RightArrow left={666.7} cy={669} w={23} h={8} />
      <UpArrow cx={60} top={746.7} w={5} h={15} />
      <RightArrow left={336} cy={909.3} w={16} h={4.5} />
      <UpArrow cx={424.3} top={741.7} w={4.5} h={13} />
      <RightArrow left={634.3} cy={935} w={19} h={5} />
      <Watermark />
    </div>
  );
}
